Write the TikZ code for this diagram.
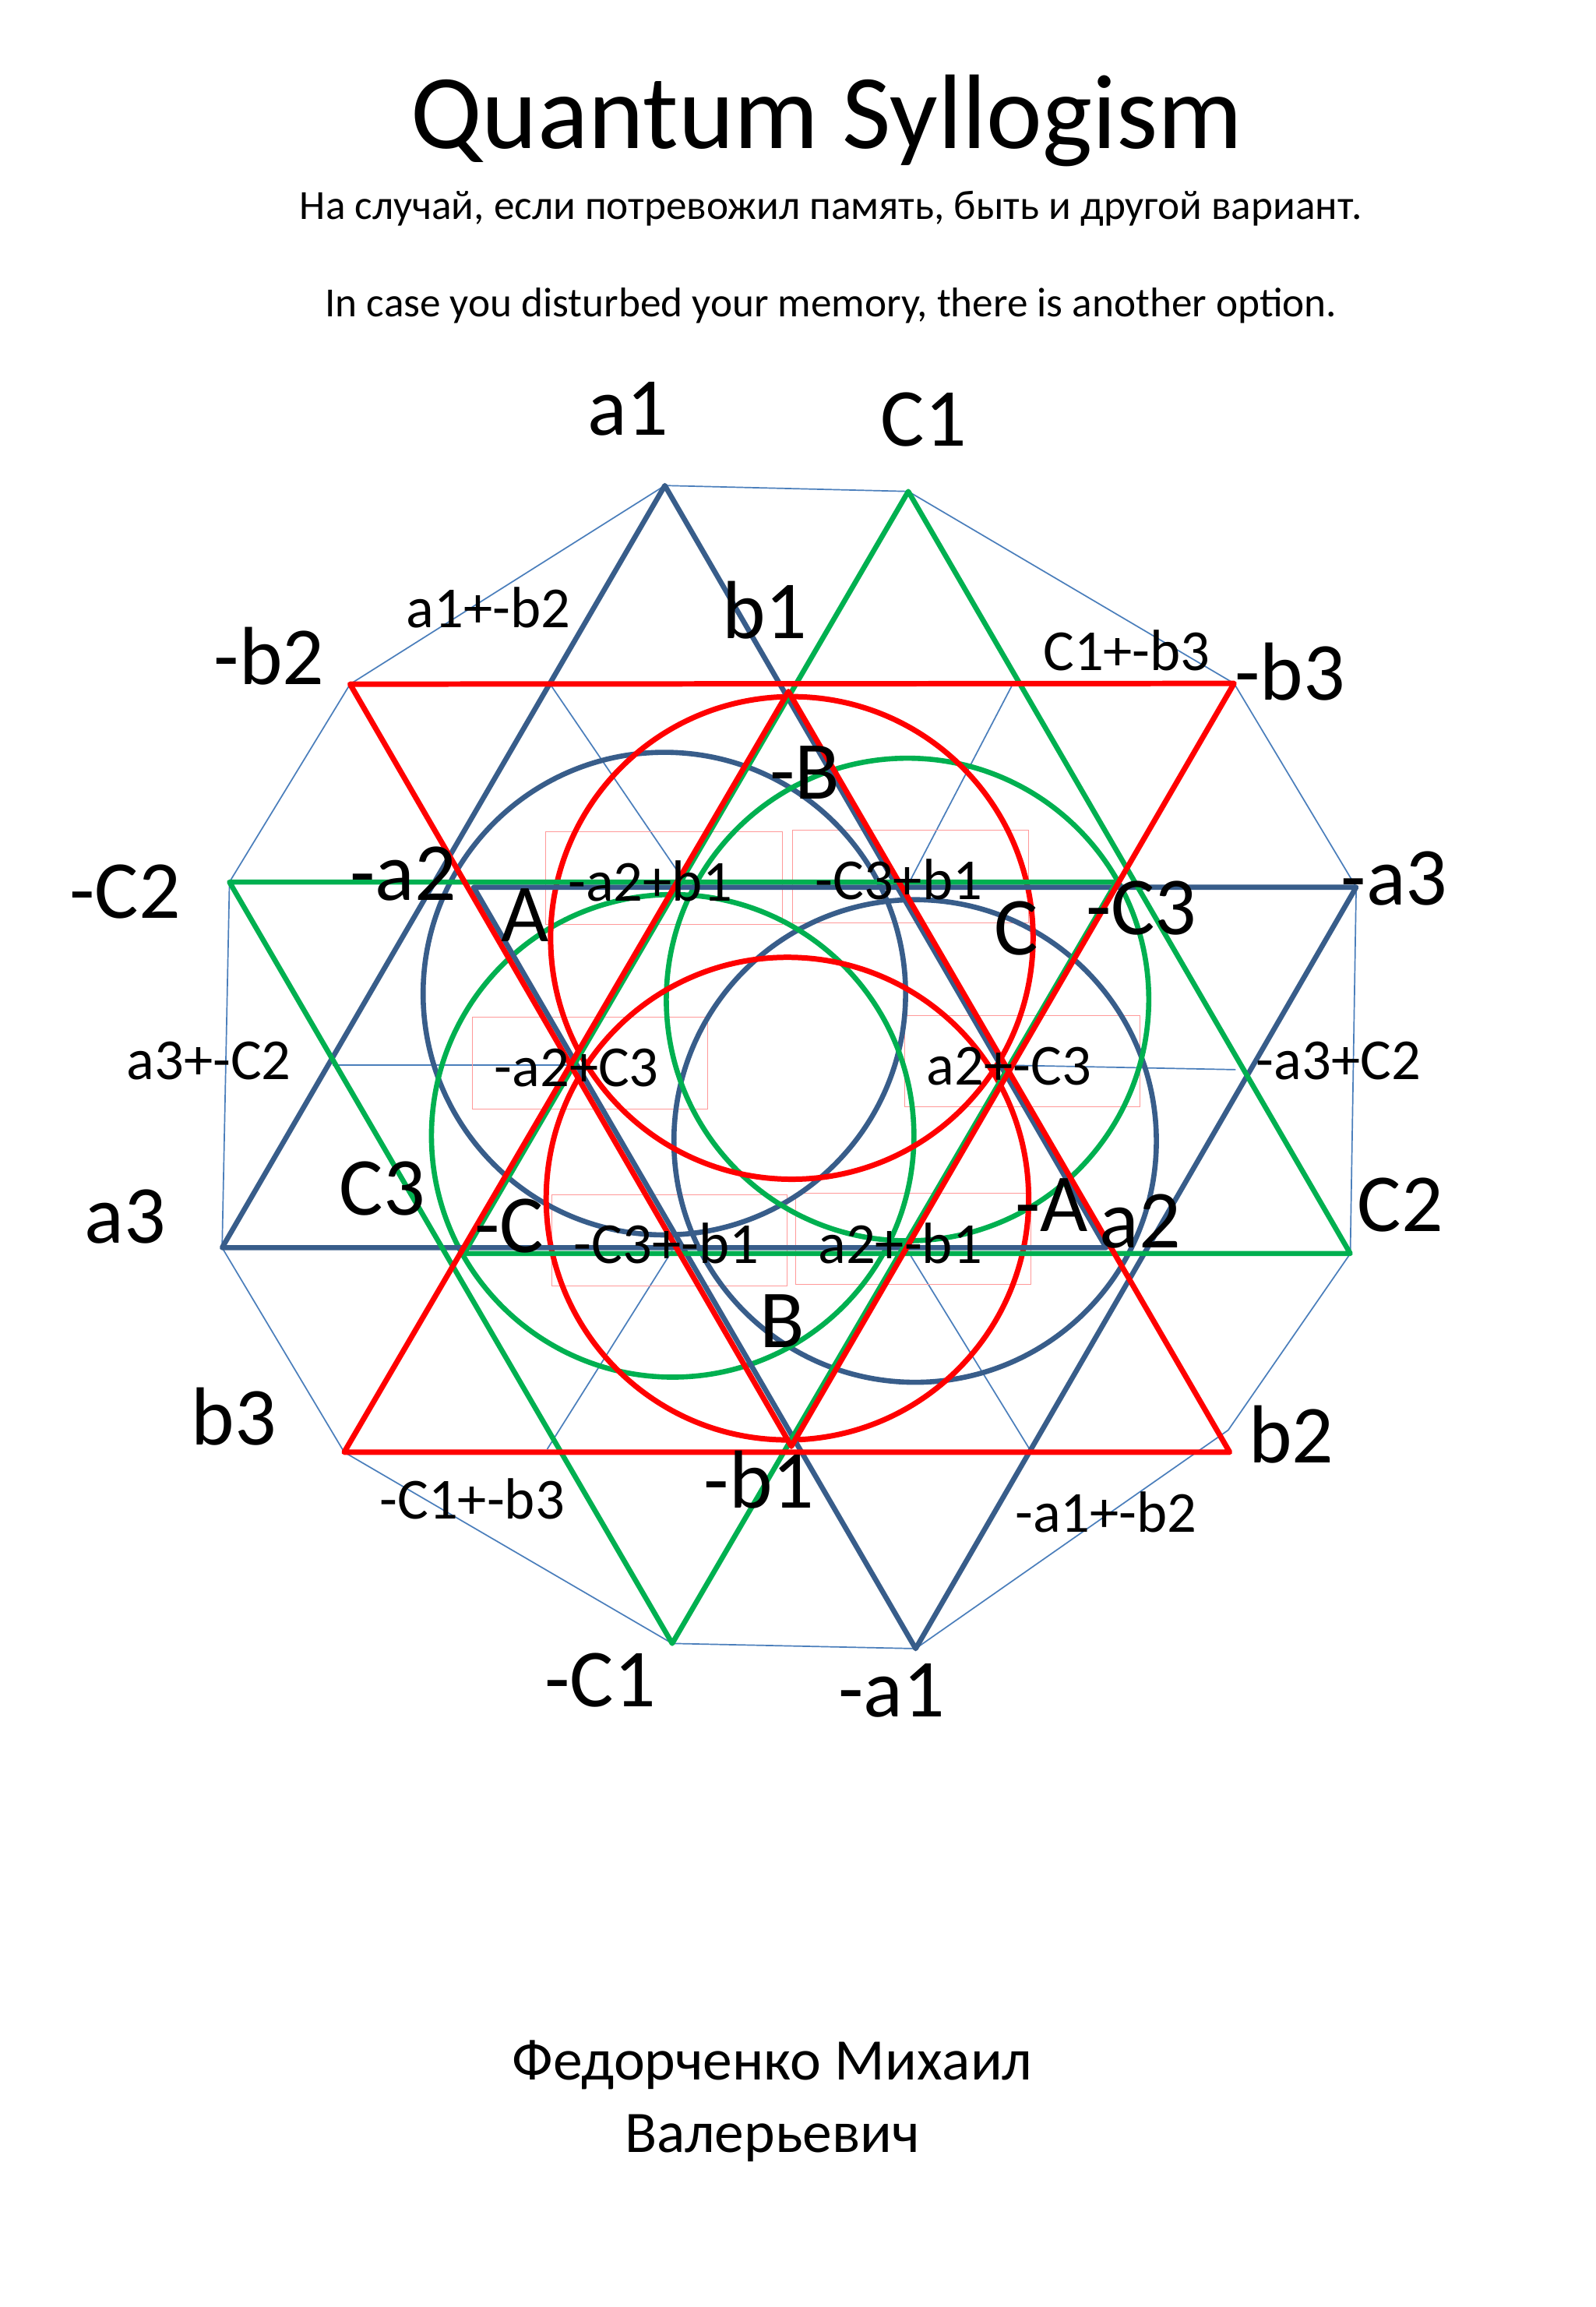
\documentclass[tikz,border=0pt]{standalone}
\usepackage{fontspec}
\setmainfont{Carlito}
\usetikzlibrary{positioning}
\definecolor{steel}{HTML}{385D8A}
\definecolor{thinblue}{HTML}{4A7EBB}
\definecolor{ogreen}{HTML}{00B050}
\tikzset{bluetri/.style = {draw=steel, line width=3.5pt, line join=round}}
\tikzset{greentri/.style = {draw=ogreen, line width=3.5pt, line join=round}}
\tikzset{redtri/.style = {draw=red, line width=3.7pt, line join=round}}
\tikzset{hairline/.style = {draw=thinblue, line width=0.9pt}}
\tikzset{textbox/.style = {draw=red!40, line width=0.4pt}}
\tikzset{biglabel/.style = {inner sep=0pt, text height=36pt, text depth=0pt, font=\fontsize{56}{60}\selectfont}}
\tikzset{smalllabel/.style = {inner sep=0pt, text height=25pt, text depth=0pt, font=\fontsize{39.5}{44}\selectfont}}
\tikzset{titletext/.style = {inner sep=0pt, text height=46pt, text depth=0pt, font=\fontsize{72}{80}\selectfont}}
\tikzset{subtext/.style = {inner sep=0pt, text height=18pt, text depth=0pt, font=\fontsize{28.2}{33}\selectfont}}
\tikzset{authortext/.style = {inner sep=0pt, text height=25.6pt, text depth=0pt, font=\fontsize{40}{46}\selectfont}}

\begin{document}
\begin{tikzpicture}[x=1pt, y=-1pt]
  \fill[white] (0,0) rectangle (1085,1568);
  \useasboundingbox (0,0) rectangle (1085,1568);

  \coordinate (a1) at (452,330);
  \coordinate (a2) at (752,848);
  \coordinate (a3) at (151,848);
  \coordinate (ma1) at (622.5,1120.5);
  \coordinate (ma2) at (322,603);
  \coordinate (ma3) at (922,603);
  \coordinate (C1) at (617.5,334);
  \coordinate (C2) at (918,852);
  \coordinate (C3) at (315.5,852);
  \coordinate (mC1) at (457,1117);
  \coordinate (mC2) at (156,599.5);
  \coordinate (mC3) at (759,599.5);
  \coordinate (b1) at (536,470);
  \coordinate (b2) at (836,987);
  \coordinate (b3) at (234,987);
  \coordinate (mb1) at (538,983);
  \coordinate (mb2) at (238,465);
  \coordinate (mb3) at (839,464.5);
  \coordinate (b2o) at (835,972);

  \coordinate (nwa) at (374,465);
  \coordinate (nwb) at (466,600);
  \coordinate (nea) at (689,464);
  \coordinate (neb) at (618,600);
  \coordinate (wa) at (226,724);
  \coordinate (wb) at (391,724);
  \coordinate (ea) at (686,724);
  \coordinate (eb) at (840,727);
  \coordinate (swa) at (457,850);
  \coordinate (swb) at (372,985);
  \coordinate (sea) at (617,850);
  \coordinate (seb) at (700,985);

  \draw[hairline] (a1) -- (C1) -- (mb3) -- (ma3) -- (C2) -- (b2o) -- (ma1) -- (mC1) -- (b3) -- (a3) -- (mC2) -- (mb2) -- cycle;
  \draw[hairline] (nwa) -- (nwb);
  \draw[hairline] (nea) -- (neb);
  \draw[hairline] (wa) -- (wb);
  \draw[hairline] (ea) -- (eb);
  \draw[hairline] (swa) -- (swb);
  \draw[hairline] (sea) -- (seb);

  \draw[textbox] (371,565) rectangle (532,628);
  \draw[textbox] (539,564) rectangle (699,627);
  \draw[textbox] (321,691) rectangle (481,754);
  \draw[textbox] (615,690) rectangle (775,752);
  \draw[textbox] (375,812) rectangle (535,874);
  \draw[textbox] (541,811) rectangle (701,873);

  \draw[bluetri] (barycentric cs:a1=1,a2=1,a3=1) circle (164pt);
  \draw[bluetri] (barycentric cs:ma1=1,ma2=1,ma3=1) circle (164pt);
  \draw[greentri] (barycentric cs:C1=1,C2=1,C3=1) circle (164pt);
  \draw[greentri] (barycentric cs:mC1=1,mC2=1,mC3=1) circle (164pt);
  \draw[redtri] (barycentric cs:mb1=1,mb2=1,mb3=1) circle (164pt);
  \draw[redtri] (barycentric cs:b1=1,b2=1,b3=1) circle (164pt);

  \draw[bluetri] (a1) -- (a3) -- (a2) -- cycle;
  \draw[bluetri] (ma2) -- (ma3) -- (ma1) -- cycle;
  \draw[greentri] (C1) -- (C3) -- (C2) -- cycle;
  \draw[greentri] (mC2) -- (mC3) -- (mC1) -- cycle;
  \draw[redtri] (mb2) -- (mb3) -- (mb1) -- cycle;
  \draw[redtri] (b3) -- (b2) -- (b1) -- cycle;

  \node[titletext] (title) at (562,78) {Quantum Syllogism};
  \node[subtext] (subru) at (565,140) {На случай, если потревожил память, быть и другой вариант.};
  \node[subtext] (suben) at (565,206) {In case you disturbed your memory, there is another option.};

  \node[biglabel] (la1) at (427,278) {a1};
  \node[biglabel] (lC1) at (628,285) {C1};
  \node[biglabel] (lb1) at (520,416) {b1};
  \node[biglabel] (lmb2) at (183,447) {-b2};
  \node[biglabel] (lmb3) at (877,458) {-b3};
  \node[biglabel] (lmB) at (547,525) {-B};
  \node[biglabel] (lmC2) at (85,606) {-C2};
  \node[biglabel] (lma2) at (274,594) {-a2};
  \node[biglabel] (lA) at (357,622) {A};
  \node[biglabel] (lC) at (691,631) {C};
  \node[biglabel] (lmC3) at (776,617) {-C3};
  \node[biglabel] (lma3) at (948,597) {-a3};
  \node[biglabel] (lC3) at (260,808) {C3};
  \node[biglabel] (la3) at (85,827) {a3};
  \node[biglabel] (lmC) at (346,833) {-C};
  \node[biglabel] (lmA) at (715,819) {-A};
  \node[biglabel] (la2) at (775,830) {a2};
  \node[biglabel] (lC2) at (952,819) {C2};
  \node[biglabel] (lB) at (532,898) {B};
  \node[biglabel] (lb3) at (159,964) {b3};
  \node[biglabel] (lmb1) at (516,1007) {-b1};
  \node[biglabel] (lb2) at (878,976) {b2};
  \node[biglabel] (lmC1) at (408,1142) {-C1};
  \node[biglabel] (lma1) at (606,1149) {-a1};

  \node[smalllabel] (la1mb2) at (332,414) {a1+-b2};
  \node[smalllabel] (lC1mb3) at (766,443) {C1+-b3};
  \node[smalllabel] (lma2b1) at (442,600) {-a2+b1};
  \node[smalllabel] (lmC3b1) at (611,599) {-C3+b1};
  \node[smalllabel] (la3mC2) at (142,721) {a3+-C2};
  \node[smalllabel] (lma2C3) at (392,726) {-a2+C3};
  \node[smalllabel] (la2mC3) at (686,725) {a2+-C3};
  \node[smalllabel] (lma3C2) at (910,721) {-a3+C2};
  \node[smalllabel] (lmC3mb1) at (453,846) {-C3+-b1};
  \node[smalllabel] (la2mb1) at (612,846) {a2+-b1};
  \node[smalllabel] (lmC1mb3) at (321,1020) {-C1+-b3};
  \node[smalllabel] (lma1mb2) at (752,1029) {-a1+-b2};

  \node[authortext] (author) at (525,1401) {Федорченко Михаил};
  \node[authortext, below=23pt of author] (patronym) {Валерьевич};
\end{tikzpicture}
\end{document}
